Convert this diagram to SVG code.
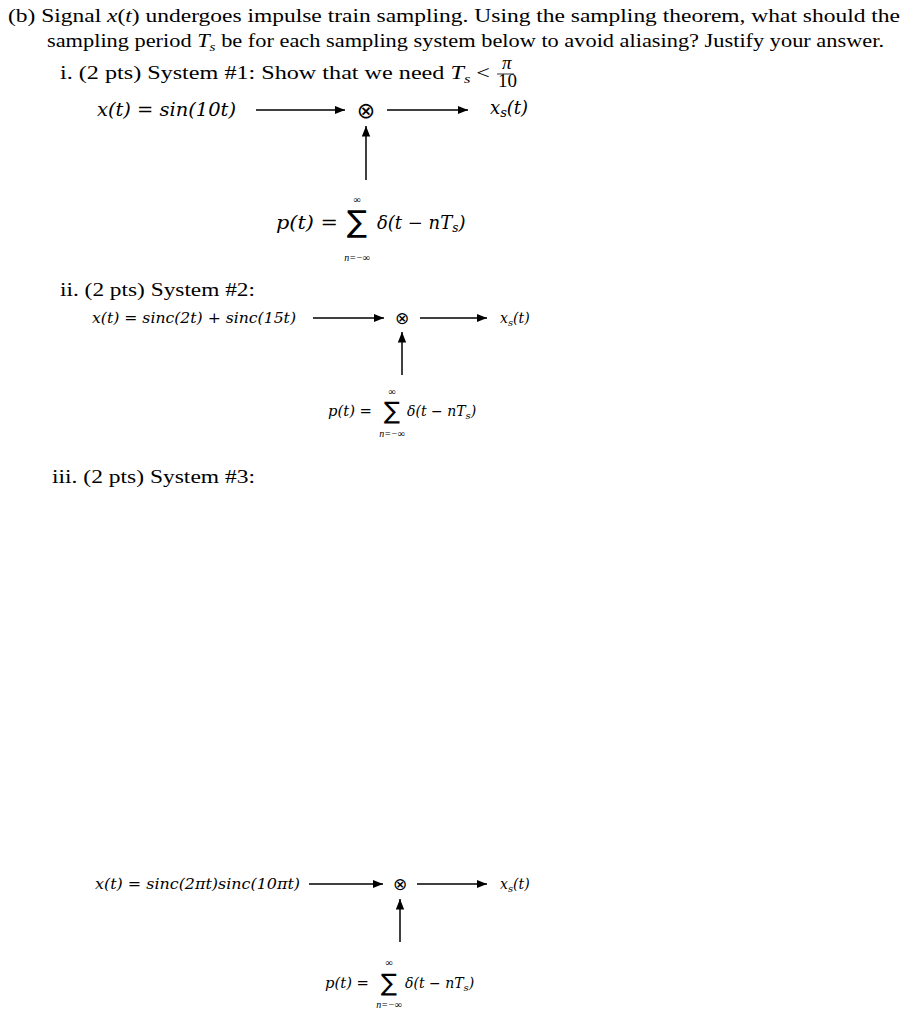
<svg xmlns="http://www.w3.org/2000/svg" width="902" height="1024" viewBox="0 0 902 1024">
<style>
.h{font-family:"Liberation Serif",serif;font-size:19px;fill:#000}
.m{font-family:"DejaVu Serif",serif;font-style:italic;fill:#000}
.m1{font-size:18px}.m2{font-size:14px}
.s{font-family:"DejaVu Sans",sans-serif;fill:#000}
.sm{font-family:"Liberation Serif",serif;font-style:italic;font-size:10px;fill:#000}
.c line{stroke:#000;stroke-width:1.5}
</style>
<defs><marker id="a" viewBox="0 0 10 10" refX="10" refY="5" markerWidth="7" markerHeight="7" orient="auto"><path d="M0,1 L10,5 L0,9 z" fill="#000"/></marker></defs>
<rect width="902" height="1024" fill="#fff"/>
<text class="h" x="8" y="22" textLength="892" lengthAdjust="spacingAndGlyphs">(b) Signal <tspan font-style="italic">x</tspan>(<tspan font-style="italic">t</tspan>) undergoes impulse train sampling.  Using the sampling theorem, what should the</text>
<text class="h" x="47" y="47" textLength="837" lengthAdjust="spacingAndGlyphs">sampling period <tspan font-style="italic">T<tspan font-size="13" dy="4">s</tspan></tspan><tspan dy="-4"> be for each sampling system below to avoid aliasing? Justify your answer.</tspan></text>
<text class="h" x="60" y="79" textLength="430" lengthAdjust="spacingAndGlyphs">i.  (2 pts) System #1: Show that we need <tspan font-style="italic">T<tspan font-size="13" dy="4">s</tspan></tspan><tspan dy="-4"> &lt;</tspan></text>
<text class="h" x="502" y="69" font-size="10" font-style="italic">π</text>
<line x1="497" y1="74" x2="514" y2="74" stroke="#000" stroke-width="0.8"/>
<text class="h" x="498" y="87" font-size="12">10</text>
<text class="h" x="60" y="296" textLength="195" lengthAdjust="spacingAndGlyphs">ii.  (2 pts) System #2:</text>
<text class="h" x="52" y="483" textLength="203" lengthAdjust="spacingAndGlyphs">iii.  (2 pts) System #3:</text>

<g id="sys1">
<text class="m m1" x="97" y="116" textLength="139" lengthAdjust="spacingAndGlyphs">x(t) = sin(10t)</text>
<text class="s" x="366" y="118" font-size="22" text-anchor="middle">⊗</text>
<text class="m m1" x="490" y="114">x<tspan font-size="13" dy="3">s</tspan><tspan dy="-3">(t)</tspan></text>
<text class="m m1" x="276" y="229" textLength="62" lengthAdjust="spacingAndGlyphs">p(t) =</text>
<text class="s" x="357" y="232" font-size="30" text-anchor="middle">∑</text>
<text class="sm" x="357" y="203" font-size="13" text-anchor="middle">∞</text>
<text class="sm" x="357" y="261" text-anchor="middle">n=−∞</text>
<text class="m m1" x="377" y="229">δ(t − nT<tspan font-size="12" dy="3">s</tspan><tspan dy="-3">)</tspan></text>
</g>
<g id="sys2">
<text class="m m2" x="92" y="323" textLength="204" lengthAdjust="spacingAndGlyphs">x(t) = sinc(2t) + sinc(15t)</text>
<text class="s" x="402" y="324" font-size="17" text-anchor="middle">⊗</text>
<text class="m m2" x="500" y="323">x<tspan font-size="10" dy="3">s</tspan><tspan dy="-3">(t)</tspan></text>
<text class="m m2" x="328" y="416" textLength="44" lengthAdjust="spacingAndGlyphs">p(t) =</text>
<text class="s" x="392" y="419" font-size="24" text-anchor="middle">∑</text>
<text class="sm" x="392" y="395" text-anchor="middle">∞</text>
<text class="sm" x="392" y="437" font-size="9" text-anchor="middle">n=−∞</text>
<text class="m m2" x="407" y="416">δ(t − nT<tspan font-size="10" dy="3">s</tspan><tspan dy="-3">)</tspan></text>
</g>
<g id="sys3">
<text class="m m2" x="95" y="889" textLength="205" lengthAdjust="spacingAndGlyphs">x(t) = sinc(2πt)sinc(10πt)</text>
<text class="s" x="400" y="890" font-size="17" text-anchor="middle">⊗</text>
<text class="m m2" x="500" y="889">x<tspan font-size="10" dy="3">s</tspan><tspan dy="-3">(t)</tspan></text>
<text class="m m2" x="325" y="988" textLength="44" lengthAdjust="spacingAndGlyphs">p(t) =</text>
<text class="s" x="389" y="991" font-size="24" text-anchor="middle">∑</text>
<text class="sm" x="389" y="966" text-anchor="middle">∞</text>
<text class="sm" x="389" y="1008" font-size="9" text-anchor="middle">n=−∞</text>
<text class="m m2" x="405" y="988">δ(t − nT<tspan font-size="10" dy="3">s</tspan><tspan dy="-3">)</tspan></text>
</g>
<g class="c" id="connectors">
<line x1="256" y1="110" x2="345" y2="110" marker-end="url(#a)"/>
<line x1="387" y1="110" x2="468" y2="110" marker-end="url(#a)"/>
<line x1="366" y1="180" x2="366" y2="126" marker-end="url(#a)"/>
<line x1="313" y1="318" x2="384" y2="318" marker-end="url(#a)"/>
<line x1="420" y1="318" x2="487" y2="318" marker-end="url(#a)"/>
<line x1="402" y1="375" x2="402" y2="332" marker-end="url(#a)"/>
<line x1="309" y1="884" x2="383" y2="884" marker-end="url(#a)"/>
<line x1="417" y1="884" x2="487" y2="884" marker-end="url(#a)"/>
<line x1="400" y1="942" x2="400" y2="899" marker-end="url(#a)"/>
</g>
</svg>
